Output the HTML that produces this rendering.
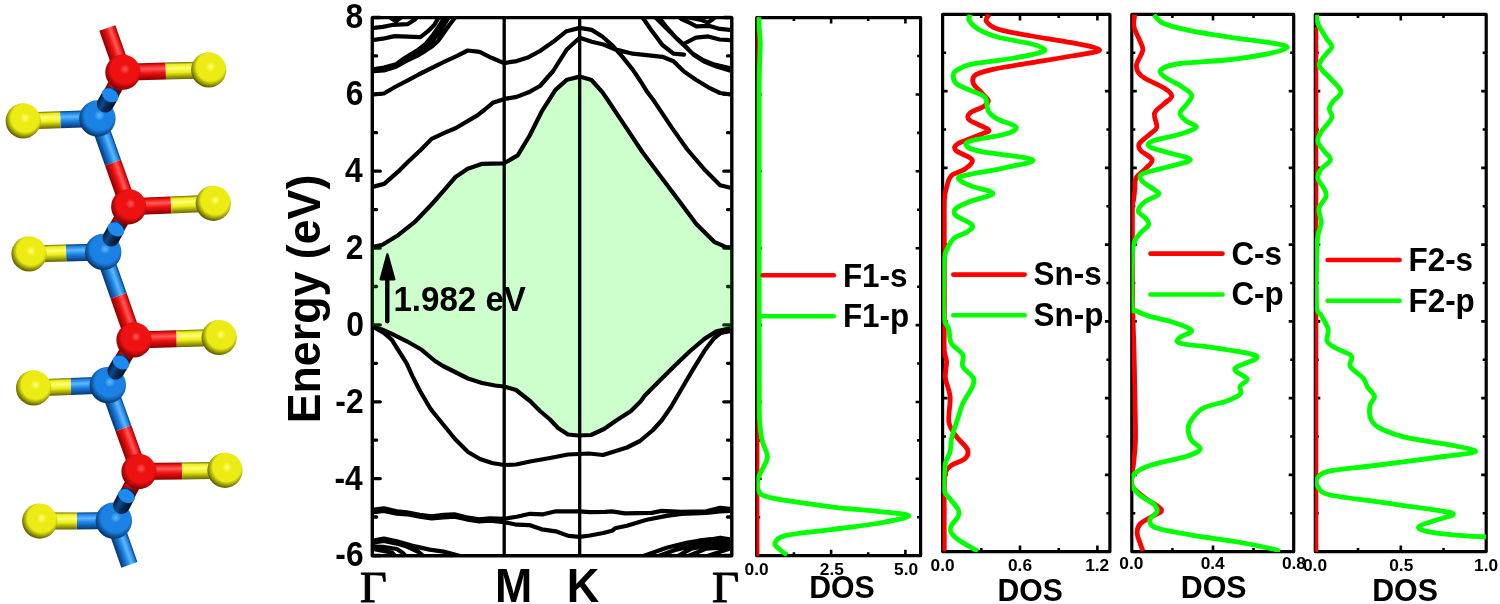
<!DOCTYPE html>
<html><head><meta charset="utf-8"><title>Band structure and DOS</title>
<style>
html,body{margin:0;padding:0;background:#fff;width:1500px;height:604px;overflow:hidden}
svg{display:block}
.s{font-family:"Liberation Sans",Arial,sans-serif}
.r{font-family:"Liberation Serif","Times New Roman",serif}
</style></head><body>
<svg width="1500" height="604" viewBox="0 0 1500 604"><defs><linearGradient id="g1" gradientUnits="userSpaceOnUse" x1="123.1" y1="47.3" x2="107.1" y2="53"><stop offset="0" stop-color="#8a0000"/><stop offset="0.12" stop-color="#ee1111"/><stop offset="0.35" stop-color="#ff5a5a"/><stop offset="0.6" stop-color="#ee1111"/><stop offset="1" stop-color="#8a0000"/></linearGradient><linearGradient id="g2" gradientUnits="userSpaceOnUse" x1="129.6" y1="539.8" x2="113.6" y2="545.5"><stop offset="0" stop-color="#08366e"/><stop offset="0.12" stop-color="#1a82e4"/><stop offset="0.35" stop-color="#60b8ff"/><stop offset="0.6" stop-color="#1a82e4"/><stop offset="1" stop-color="#08366e"/></linearGradient><linearGradient id="g3" gradientUnits="userSpaceOnUse" x1="144.1" y1="63.1" x2="144.6" y2="80.1"><stop offset="0" stop-color="#8a0000"/><stop offset="0.12" stop-color="#ee1111"/><stop offset="0.35" stop-color="#ff5a5a"/><stop offset="0.6" stop-color="#ee1111"/><stop offset="1" stop-color="#8a0000"/></linearGradient><linearGradient id="g4" gradientUnits="userSpaceOnUse" x1="187" y1="62" x2="187.5" y2="79"><stop offset="0" stop-color="#666600"/><stop offset="0.12" stop-color="#ecec14"/><stop offset="0.35" stop-color="#ffff78"/><stop offset="0.6" stop-color="#ecec14"/><stop offset="1" stop-color="#666600"/></linearGradient><linearGradient id="g5" gradientUnits="userSpaceOnUse" x1="78.6" y1="110.6" x2="79.1" y2="127.6"><stop offset="0" stop-color="#08366e"/><stop offset="0.12" stop-color="#1a82e4"/><stop offset="0.35" stop-color="#60b8ff"/><stop offset="0.6" stop-color="#1a82e4"/><stop offset="1" stop-color="#08366e"/></linearGradient><linearGradient id="g6" gradientUnits="userSpaceOnUse" x1="41.5" y1="111.8" x2="42" y2="128.8"><stop offset="0" stop-color="#666600"/><stop offset="0.12" stop-color="#ecec14"/><stop offset="0.35" stop-color="#ffff78"/><stop offset="0.6" stop-color="#ecec14"/><stop offset="1" stop-color="#666600"/></linearGradient><linearGradient id="g7" gradientUnits="userSpaceOnUse" x1="113.2" y1="137.7" x2="97.2" y2="143.4"><stop offset="0" stop-color="#08366e"/><stop offset="0.12" stop-color="#1a82e4"/><stop offset="0.35" stop-color="#60b8ff"/><stop offset="0.6" stop-color="#1a82e4"/><stop offset="1" stop-color="#08366e"/></linearGradient><linearGradient id="g8" gradientUnits="userSpaceOnUse" x1="128.9" y1="181.9" x2="112.9" y2="187.6"><stop offset="0" stop-color="#8a0000"/><stop offset="0.12" stop-color="#ee1111"/><stop offset="0.35" stop-color="#ff5a5a"/><stop offset="0.6" stop-color="#ee1111"/><stop offset="1" stop-color="#8a0000"/></linearGradient><linearGradient id="g9" gradientUnits="userSpaceOnUse" x1="149.5" y1="197.4" x2="150.2" y2="214.4"><stop offset="0" stop-color="#8a0000"/><stop offset="0.12" stop-color="#ee1111"/><stop offset="0.35" stop-color="#ff5a5a"/><stop offset="0.6" stop-color="#ee1111"/><stop offset="1" stop-color="#8a0000"/></linearGradient><linearGradient id="g10" gradientUnits="userSpaceOnUse" x1="191.8" y1="195.7" x2="192.5" y2="212.7"><stop offset="0" stop-color="#666600"/><stop offset="0.12" stop-color="#ecec14"/><stop offset="0.35" stop-color="#ffff78"/><stop offset="0.6" stop-color="#ecec14"/><stop offset="1" stop-color="#666600"/></linearGradient><linearGradient id="g11" gradientUnits="userSpaceOnUse" x1="84.4" y1="244" x2="84.9" y2="261"><stop offset="0" stop-color="#08366e"/><stop offset="0.12" stop-color="#1a82e4"/><stop offset="0.35" stop-color="#60b8ff"/><stop offset="0.6" stop-color="#1a82e4"/><stop offset="1" stop-color="#08366e"/></linearGradient><linearGradient id="g12" gradientUnits="userSpaceOnUse" x1="47.3" y1="244.9" x2="47.8" y2="261.9"><stop offset="0" stop-color="#666600"/><stop offset="0.12" stop-color="#ecec14"/><stop offset="0.35" stop-color="#ffff78"/><stop offset="0.6" stop-color="#ecec14"/><stop offset="1" stop-color="#666600"/></linearGradient><linearGradient id="g13" gradientUnits="userSpaceOnUse" x1="118.9" y1="271.2" x2="102.9" y2="276.8"><stop offset="0" stop-color="#08366e"/><stop offset="0.12" stop-color="#1a82e4"/><stop offset="0.35" stop-color="#60b8ff"/><stop offset="0.6" stop-color="#1a82e4"/><stop offset="1" stop-color="#08366e"/></linearGradient><linearGradient id="g14" gradientUnits="userSpaceOnUse" x1="134.3" y1="315.1" x2="118.3" y2="320.7"><stop offset="0" stop-color="#8a0000"/><stop offset="0.12" stop-color="#ee1111"/><stop offset="0.35" stop-color="#ff5a5a"/><stop offset="0.6" stop-color="#ee1111"/><stop offset="1" stop-color="#8a0000"/></linearGradient><linearGradient id="g15" gradientUnits="userSpaceOnUse" x1="155" y1="330.8" x2="155.5" y2="347.8"><stop offset="0" stop-color="#8a0000"/><stop offset="0.12" stop-color="#ee1111"/><stop offset="0.35" stop-color="#ff5a5a"/><stop offset="0.6" stop-color="#ee1111"/><stop offset="1" stop-color="#8a0000"/></linearGradient><linearGradient id="g16" gradientUnits="userSpaceOnUse" x1="197.6" y1="329.6" x2="198.1" y2="346.6"><stop offset="0" stop-color="#666600"/><stop offset="0.12" stop-color="#ecec14"/><stop offset="0.35" stop-color="#ffff78"/><stop offset="0.6" stop-color="#ecec14"/><stop offset="1" stop-color="#666600"/></linearGradient><linearGradient id="g17" gradientUnits="userSpaceOnUse" x1="88.9" y1="377.3" x2="89.6" y2="394.3"><stop offset="0" stop-color="#08366e"/><stop offset="0.12" stop-color="#1a82e4"/><stop offset="0.35" stop-color="#60b8ff"/><stop offset="0.6" stop-color="#1a82e4"/><stop offset="1" stop-color="#08366e"/></linearGradient><linearGradient id="g18" gradientUnits="userSpaceOnUse" x1="51.8" y1="378.7" x2="52.5" y2="395.7"><stop offset="0" stop-color="#666600"/><stop offset="0.12" stop-color="#ecec14"/><stop offset="0.35" stop-color="#ffff78"/><stop offset="0.6" stop-color="#ecec14"/><stop offset="1" stop-color="#666600"/></linearGradient><linearGradient id="g19" gradientUnits="userSpaceOnUse" x1="123.6" y1="403.8" x2="107.6" y2="409.6"><stop offset="0" stop-color="#08366e"/><stop offset="0.12" stop-color="#1a82e4"/><stop offset="0.35" stop-color="#60b8ff"/><stop offset="0.6" stop-color="#1a82e4"/><stop offset="1" stop-color="#08366e"/></linearGradient><linearGradient id="g20" gradientUnits="userSpaceOnUse" x1="139.2" y1="447.1" x2="123.2" y2="452.9"><stop offset="0" stop-color="#8a0000"/><stop offset="0.12" stop-color="#ee1111"/><stop offset="0.35" stop-color="#ff5a5a"/><stop offset="0.6" stop-color="#ee1111"/><stop offset="1" stop-color="#8a0000"/></linearGradient><linearGradient id="g21" gradientUnits="userSpaceOnUse" x1="160.4" y1="462.8" x2="160.6" y2="479.8"><stop offset="0" stop-color="#8a0000"/><stop offset="0.12" stop-color="#ee1111"/><stop offset="0.35" stop-color="#ff5a5a"/><stop offset="0.6" stop-color="#ee1111"/><stop offset="1" stop-color="#8a0000"/></linearGradient><linearGradient id="g22" gradientUnits="userSpaceOnUse" x1="203.4" y1="462.1" x2="203.6" y2="479.1"><stop offset="0" stop-color="#666600"/><stop offset="0.12" stop-color="#ecec14"/><stop offset="0.35" stop-color="#ffff78"/><stop offset="0.6" stop-color="#ecec14"/><stop offset="1" stop-color="#666600"/></linearGradient><linearGradient id="g23" gradientUnits="userSpaceOnUse" x1="95.2" y1="512.2" x2="95.3" y2="529.2"><stop offset="0" stop-color="#08366e"/><stop offset="0.12" stop-color="#1a82e4"/><stop offset="0.35" stop-color="#60b8ff"/><stop offset="0.6" stop-color="#1a82e4"/><stop offset="1" stop-color="#08366e"/></linearGradient><linearGradient id="g24" gradientUnits="userSpaceOnUse" x1="58.2" y1="512.5" x2="58.3" y2="529.5"><stop offset="0" stop-color="#666600"/><stop offset="0.12" stop-color="#ecec14"/><stop offset="0.35" stop-color="#ffff78"/><stop offset="0.6" stop-color="#ecec14"/><stop offset="1" stop-color="#666600"/></linearGradient><radialGradient id="a25" cx="210.7" cy="66.9" r="20.2" fx="210.7" fy="66.9" gradientUnits="userSpaceOnUse"><stop offset="0" stop-color="#ffff78"/><stop offset="0.25" stop-color="#ecec14"/><stop offset="0.7" stop-color="#ecec14"/><stop offset="1" stop-color="#666600"/></radialGradient><radialGradient id="a26" cx="25.2" cy="117.9" r="20.2" fx="25.2" fy="117.9" gradientUnits="userSpaceOnUse"><stop offset="0" stop-color="#ffff78"/><stop offset="0.25" stop-color="#ecec14"/><stop offset="0.7" stop-color="#ecec14"/><stop offset="1" stop-color="#666600"/></radialGradient><radialGradient id="a27" cx="215.3" cy="200.3" r="20.2" fx="215.3" fy="200.3" gradientUnits="userSpaceOnUse"><stop offset="0" stop-color="#ffff78"/><stop offset="0.25" stop-color="#ecec14"/><stop offset="0.7" stop-color="#ecec14"/><stop offset="1" stop-color="#666600"/></radialGradient><radialGradient id="a28" cx="31" cy="250.9" r="20.2" fx="31" fy="250.9" gradientUnits="userSpaceOnUse"><stop offset="0" stop-color="#ffff78"/><stop offset="0.25" stop-color="#ecec14"/><stop offset="0.7" stop-color="#ecec14"/><stop offset="1" stop-color="#666600"/></radialGradient><radialGradient id="a29" cx="221.1" cy="334.5" r="20.2" fx="221.1" fy="334.5" gradientUnits="userSpaceOnUse"><stop offset="0" stop-color="#ffff78"/><stop offset="0.25" stop-color="#ecec14"/><stop offset="0.7" stop-color="#ecec14"/><stop offset="1" stop-color="#666600"/></radialGradient><radialGradient id="a30" cx="35.6" cy="384.9" r="20.2" fx="35.6" fy="384.9" gradientUnits="userSpaceOnUse"><stop offset="0" stop-color="#ffff78"/><stop offset="0.25" stop-color="#ecec14"/><stop offset="0.7" stop-color="#ecec14"/><stop offset="1" stop-color="#666600"/></radialGradient><radialGradient id="a31" cx="227" cy="467.3" r="20.2" fx="227" fy="467.3" gradientUnits="userSpaceOnUse"><stop offset="0" stop-color="#ffff78"/><stop offset="0.25" stop-color="#ecec14"/><stop offset="0.7" stop-color="#ecec14"/><stop offset="1" stop-color="#666600"/></radialGradient><radialGradient id="a32" cx="41.7" cy="518.1" r="20.2" fx="41.7" fy="518.1" gradientUnits="userSpaceOnUse"><stop offset="0" stop-color="#ffff78"/><stop offset="0.25" stop-color="#ecec14"/><stop offset="0.7" stop-color="#ecec14"/><stop offset="1" stop-color="#666600"/></radialGradient><linearGradient id="g33" gradientUnits="userSpaceOnUse" x1="109.5" y1="79.9" x2="123.5" y2="87.6"><stop offset="0" stop-color="#600"/><stop offset="0.12" stop-color="#b00"/><stop offset="0.35" stop-color="#d00"/><stop offset="0.6" stop-color="#b00"/><stop offset="1" stop-color="#600"/></linearGradient><radialGradient id="a34" cx="99.4" cy="115.5" r="20.9" fx="99.4" fy="115.5" gradientUnits="userSpaceOnUse"><stop offset="0" stop-color="#60b8ff"/><stop offset="0.25" stop-color="#1a82e4"/><stop offset="0.7" stop-color="#1a82e4"/><stop offset="1" stop-color="#08366e"/></radialGradient><linearGradient id="g35" gradientUnits="userSpaceOnUse" x1="100.3" y1="95.6" x2="115.2" y2="103.8"><stop offset="0" stop-color="#011428"/><stop offset="0.12" stop-color="#062c58"/><stop offset="0.35" stop-color="#0e4a88"/><stop offset="0.6" stop-color="#062c58"/><stop offset="1" stop-color="#011428"/></linearGradient><radialGradient id="a36" cx="124.9" cy="69.2" r="20.2" fx="124.9" fy="69.2" gradientUnits="userSpaceOnUse"><stop offset="0" stop-color="#ff5a5a"/><stop offset="0.25" stop-color="#ee1111"/><stop offset="0.7" stop-color="#ee1111"/><stop offset="1" stop-color="#8a0000"/></radialGradient><linearGradient id="g37" gradientUnits="userSpaceOnUse" x1="115.4" y1="214.2" x2="129.3" y2="222"><stop offset="0" stop-color="#600"/><stop offset="0.12" stop-color="#b00"/><stop offset="0.35" stop-color="#d00"/><stop offset="0.6" stop-color="#b00"/><stop offset="1" stop-color="#600"/></linearGradient><radialGradient id="a38" cx="105.2" cy="249" r="20.9" fx="105.2" fy="249" gradientUnits="userSpaceOnUse"><stop offset="0" stop-color="#60b8ff"/><stop offset="0.25" stop-color="#1a82e4"/><stop offset="0.7" stop-color="#1a82e4"/><stop offset="1" stop-color="#08366e"/></radialGradient><linearGradient id="g39" gradientUnits="userSpaceOnUse" x1="106.1" y1="229.5" x2="120.9" y2="237.9"><stop offset="0" stop-color="#011428"/><stop offset="0.12" stop-color="#062c58"/><stop offset="0.35" stop-color="#0e4a88"/><stop offset="0.6" stop-color="#062c58"/><stop offset="1" stop-color="#011428"/></linearGradient><radialGradient id="a40" cx="130.7" cy="203.8" r="20.2" fx="130.7" fy="203.8" gradientUnits="userSpaceOnUse"><stop offset="0" stop-color="#ff5a5a"/><stop offset="0.25" stop-color="#ee1111"/><stop offset="0.7" stop-color="#ee1111"/><stop offset="1" stop-color="#8a0000"/></radialGradient><linearGradient id="g41" gradientUnits="userSpaceOnUse" x1="120.5" y1="347.2" x2="134.4" y2="355.2"><stop offset="0" stop-color="#600"/><stop offset="0.12" stop-color="#b00"/><stop offset="0.35" stop-color="#d00"/><stop offset="0.6" stop-color="#b00"/><stop offset="1" stop-color="#600"/></linearGradient><radialGradient id="a42" cx="109.8" cy="382.1" r="20.9" fx="109.8" fy="382.1" gradientUnits="userSpaceOnUse"><stop offset="0" stop-color="#60b8ff"/><stop offset="0.25" stop-color="#1a82e4"/><stop offset="0.7" stop-color="#1a82e4"/><stop offset="1" stop-color="#08366e"/></radialGradient><linearGradient id="g43" gradientUnits="userSpaceOnUse" x1="111.1" y1="362.5" x2="125.8" y2="371.1"><stop offset="0" stop-color="#011428"/><stop offset="0.12" stop-color="#062c58"/><stop offset="0.35" stop-color="#0e4a88"/><stop offset="0.6" stop-color="#062c58"/><stop offset="1" stop-color="#011428"/></linearGradient><radialGradient id="a44" cx="136" cy="336.9" r="20.2" fx="136" fy="336.9" gradientUnits="userSpaceOnUse"><stop offset="0" stop-color="#ff5a5a"/><stop offset="0.25" stop-color="#ee1111"/><stop offset="0.7" stop-color="#ee1111"/><stop offset="1" stop-color="#8a0000"/></radialGradient><linearGradient id="g45" gradientUnits="userSpaceOnUse" x1="125.6" y1="480.2" x2="139.8" y2="487.5"><stop offset="0" stop-color="#600"/><stop offset="0.12" stop-color="#b00"/><stop offset="0.35" stop-color="#d00"/><stop offset="0.6" stop-color="#b00"/><stop offset="1" stop-color="#600"/></linearGradient><radialGradient id="a46" cx="115.8" cy="517.6" r="20.9" fx="115.8" fy="517.6" gradientUnits="userSpaceOnUse"><stop offset="0" stop-color="#60b8ff"/><stop offset="0.25" stop-color="#1a82e4"/><stop offset="0.7" stop-color="#1a82e4"/><stop offset="1" stop-color="#08366e"/></radialGradient><linearGradient id="g47" gradientUnits="userSpaceOnUse" x1="116.4" y1="496.9" x2="131.6" y2="504.6"><stop offset="0" stop-color="#011428"/><stop offset="0.12" stop-color="#062c58"/><stop offset="0.35" stop-color="#0e4a88"/><stop offset="0.6" stop-color="#062c58"/><stop offset="1" stop-color="#011428"/></linearGradient><radialGradient id="a48" cx="141" cy="468.6" r="20.2" fx="141" fy="468.6" gradientUnits="userSpaceOnUse"><stop offset="0" stop-color="#ff5a5a"/><stop offset="0.25" stop-color="#ee1111"/><stop offset="0.7" stop-color="#ee1111"/><stop offset="1" stop-color="#8a0000"/></radialGradient></defs><g id="mol">
<line x1="107.3" y1="28" x2="122.9" y2="72.2" stroke="url(#g1)" stroke-width="17.0" stroke-linecap="butt"/>
<line x1="113.8" y1="520.6" x2="129.4" y2="564.8" stroke="url(#g2)" stroke-width="17.0" stroke-linecap="butt"/>
<line x1="122.9" y1="72.2" x2="165.8" y2="71.1" stroke="url(#g3)" stroke-width="17.0" stroke-linecap="butt"/>
<line x1="165.8" y1="71.1" x2="208.7" y2="69.9" stroke="url(#g4)" stroke-width="17.0" stroke-linecap="butt"/>
<line x1="97.4" y1="118.5" x2="60.3" y2="119.7" stroke="url(#g5)" stroke-width="17.0" stroke-linecap="butt"/>
<line x1="60.3" y1="119.7" x2="23.2" y2="120.9" stroke="url(#g6)" stroke-width="17.0" stroke-linecap="butt"/>
<line x1="97.4" y1="118.5" x2="113" y2="162.7" stroke="url(#g7)" stroke-width="17.0" stroke-linecap="butt"/>
<line x1="113" y1="162.7" x2="128.7" y2="206.8" stroke="url(#g8)" stroke-width="17.0" stroke-linecap="butt"/>
<line x1="128.7" y1="206.8" x2="171" y2="205.1" stroke="url(#g9)" stroke-width="17.0" stroke-linecap="butt"/>
<line x1="171" y1="205.1" x2="213.3" y2="203.3" stroke="url(#g10)" stroke-width="17.0" stroke-linecap="butt"/>
<line x1="103.2" y1="252" x2="66.1" y2="252.9" stroke="url(#g11)" stroke-width="17.0" stroke-linecap="butt"/>
<line x1="66.1" y1="252.9" x2="29" y2="253.9" stroke="url(#g12)" stroke-width="17.0" stroke-linecap="butt"/>
<line x1="103.2" y1="252" x2="118.6" y2="295.9" stroke="url(#g13)" stroke-width="17.0" stroke-linecap="butt"/>
<line x1="118.6" y1="295.9" x2="134" y2="339.9" stroke="url(#g14)" stroke-width="17.0" stroke-linecap="butt"/>
<line x1="134" y1="339.9" x2="176.6" y2="338.7" stroke="url(#g15)" stroke-width="17.0" stroke-linecap="butt"/>
<line x1="176.6" y1="338.7" x2="219.1" y2="337.5" stroke="url(#g16)" stroke-width="17.0" stroke-linecap="butt"/>
<line x1="107.8" y1="385.1" x2="70.7" y2="386.5" stroke="url(#g17)" stroke-width="17.0" stroke-linecap="butt"/>
<line x1="70.7" y1="386.5" x2="33.6" y2="387.9" stroke="url(#g18)" stroke-width="17.0" stroke-linecap="butt"/>
<line x1="107.8" y1="385.1" x2="123.4" y2="428.4" stroke="url(#g19)" stroke-width="17.0" stroke-linecap="butt"/>
<line x1="123.4" y1="428.4" x2="139" y2="471.6" stroke="url(#g20)" stroke-width="17.0" stroke-linecap="butt"/>
<line x1="139" y1="471.6" x2="182" y2="471" stroke="url(#g21)" stroke-width="17.0" stroke-linecap="butt"/>
<line x1="182" y1="471" x2="225" y2="470.3" stroke="url(#g22)" stroke-width="17.0" stroke-linecap="butt"/>
<line x1="113.8" y1="520.6" x2="76.8" y2="520.9" stroke="url(#g23)" stroke-width="17.0" stroke-linecap="butt"/>
<line x1="76.8" y1="520.9" x2="39.7" y2="521.1" stroke="url(#g24)" stroke-width="17.0" stroke-linecap="butt"/>
<circle cx="208.7" cy="69.9" r="17.6" fill="url(#a25)"/>
<circle cx="23.2" cy="120.9" r="17.6" fill="url(#a26)"/>
<circle cx="213.3" cy="203.3" r="17.6" fill="url(#a27)"/>
<circle cx="29" cy="253.9" r="17.6" fill="url(#a28)"/>
<circle cx="219.1" cy="337.5" r="17.6" fill="url(#a29)"/>
<circle cx="33.6" cy="387.9" r="17.6" fill="url(#a30)"/>
<circle cx="225" cy="470.3" r="17.6" fill="url(#a31)"/>
<circle cx="39.7" cy="521.1" r="17.6" fill="url(#a32)"/>
<line x1="122.9" y1="72.2" x2="110.2" y2="95.3" stroke="url(#g33)" stroke-width="16" stroke-linecap="butt"/>
<circle cx="97.4" cy="118.5" r="18.2" fill="url(#a34)"/>
<line x1="110.2" y1="95.3" x2="105.3" y2="104.1" stroke="url(#g35)" stroke-width="17" stroke-linecap="round"/>
<ellipse cx="110.2" cy="95.3" rx="6.4" ry="8.8" transform="rotate(118.8 110.2 95.3)" fill="#1e8af0"/>
<circle cx="122.9" cy="72.2" r="17.6" fill="url(#a36)"/>
<line x1="128.7" y1="206.8" x2="115.9" y2="229.4" stroke="url(#g37)" stroke-width="16" stroke-linecap="butt"/>
<circle cx="103.2" cy="252" r="18.2" fill="url(#a38)"/>
<line x1="115.9" y1="229.4" x2="111.1" y2="238" stroke="url(#g39)" stroke-width="17" stroke-linecap="round"/>
<ellipse cx="115.9" cy="229.4" rx="6.4" ry="8.8" transform="rotate(119.4 115.9 229.4)" fill="#1e8af0"/>
<circle cx="128.7" cy="206.8" r="17.6" fill="url(#a40)"/>
<line x1="134" y1="339.9" x2="120.9" y2="362.5" stroke="url(#g41)" stroke-width="16" stroke-linecap="butt"/>
<circle cx="107.8" cy="385.1" r="18.2" fill="url(#a42)"/>
<line x1="120.9" y1="362.5" x2="115.9" y2="371.1" stroke="url(#g43)" stroke-width="17" stroke-linecap="round"/>
<ellipse cx="120.9" cy="362.5" rx="6.4" ry="8.8" transform="rotate(120.1 120.9 362.5)" fill="#1e8af0"/>
<circle cx="134" cy="339.9" r="17.6" fill="url(#a44)"/>
<line x1="139" y1="471.6" x2="126.4" y2="496.1" stroke="url(#g45)" stroke-width="16" stroke-linecap="butt"/>
<circle cx="113.8" cy="520.6" r="18.2" fill="url(#a46)"/>
<line x1="126.4" y1="496.1" x2="121.6" y2="505.4" stroke="url(#g47)" stroke-width="17" stroke-linecap="round"/>
<ellipse cx="126.4" cy="496.1" rx="6.4" ry="8.8" transform="rotate(117.2 126.4 496.1)" fill="#1e8af0"/>
<circle cx="139" cy="471.6" r="17.6" fill="url(#a48)"/>
</g>
<rect x="372.3" y="17.6" width="359.5" height="538.2" fill="none" stroke="#000" stroke-width="3.4" stroke-linejoin="round"/>
<path d="M373,555.5H380.3M731,555.5H723.8M373,517H376.6M731,517H727.5M373,478.6H380.3M731,478.6H723.8M373,440.2H376.6M731,440.2H727.5M373,401.8H380.3M731,401.8H723.8M373,363.3H376.6M731,363.3H727.5M373,324.9H380.3M731,324.9H723.8M373,286.5H376.6M731,286.5H727.5M373,248H380.3M731,248H723.8M373,209.6H376.6M731,209.6H727.5M373,171.2H380.3M731,171.2H723.8M373,132.7H376.6M731,132.7H727.5M373,94.3H380.3M731,94.3H723.8M373,55.9H376.6M731,55.9H727.5M373,17.5H380.3M731,17.5H723.8" stroke="#000" stroke-width="3.3" stroke-linecap="round"/>
<defs><clipPath id="fclip"><rect x="372.4" y="19" width="359.3" height="535"/></clipPath><clipPath id="bclip"><rect x="374" y="19" width="356.1" height="535"/></clipPath></defs>
<path clip-path="url(#fclip)" d="M360,247 L373,247 L382.4,244.8 L398.1,235.2 L415.5,221.3 L432.9,203 L445,189.1 L455.5,177 L467.7,168.8 L481.6,163.9 L492,163.6 L504,163.3 L517.7,155.4 L529.7,135.5 L541.6,111.7 L555.5,89.8 L567,79.7 L579.7,76.6 L591.5,80 L602.3,92.1 L606.9,98.8 L624.8,125.6 L642.7,152.5 L660.5,176.3 L678.4,200.1 L696.3,223.9 L714.2,241.8 L726.1,247.2 L731,247.5 L745,247.5 L745,328.2 L731,328.2 L716.4,331.4 L704.5,338.9 L689.6,351.5 L674.7,365.7 L659.8,380.6 L644.9,395.4 L641,401 L631,411 L617,420 L604,429 L591,435 L578,435.5 L568,434.5 L558,428 L550,419.5 L540,411 L530,401 L516,390 L504,386.5 L495,385.5 L482,383 L468,378.5 L455,372 L443,366 L435,361 L421.7,349.8 L406.8,341.3 L391.9,333.9 L381.9,329.4 L373,326.8 L360,326.8Z" fill="#00ff00" fill-opacity="0.2"/>
<g clip-path="url(#bclip)">
<path d="M504.2,19V554M579.7,19V554" stroke="#000" stroke-width="3.3"/>
<path d="M387.3,321.2V275" stroke="#000" stroke-width="4.4" stroke-linecap="round"/>
<path d="M387.4,254.2L394.4,279.3L380.6,279.3Z" fill="#000" stroke="#000" stroke-width="2.2" stroke-linejoin="round"/>
<path d="M373,247 L382.4,244.8 L398.1,235.2 L415.5,221.3 L432.9,203 L445,189.1 L455.5,177 L467.7,168.8 L481.6,163.9 L492,163.6 L504,163.3 L517.7,155.4 L529.7,135.5 L541.6,111.7 L555.5,89.8 L567,79.7 L579.7,76.6 L591.5,80 L602.3,92.1 L606.9,98.8 L624.8,125.6 L642.7,152.5 L660.5,176.3 L678.4,200.1 L696.3,223.9 L714.2,241.8 L726.1,247.2 L731,247.5M373,326.8 L381.9,329.4 L391.9,333.9 L406.8,341.3 L421.7,349.8 L435,361 L443,366 L455,372 L468,378.5 L482,383 L495,385.5 L504,386.5 L516,390 L530,401 L540,411 L550,419.5 L558,428 L568,434.5 L578,435.5 L591,435 L604,429 L617,420 L631,411 L641,401 L644.9,395.4 L659.8,380.6 L674.7,365.7 L689.6,351.5 L704.5,338.9 L716.4,331.4 L731,328.2M373,326.8 L383.9,332.9 L391.9,339.8 L396.8,347.8 L401.8,355.7 L406.8,363.7 L412.7,376.6 L420,391 L430,408 L433,412 L442,423 L455,439 L468,452 L480,459 L492,463 L504,465 L516,464.5 L530,461.5 L550,458 L568,454.5 L579,454 L589,453.5 L603,455 L627,447.5 L640,441 L653,430 L662,420 L671,407 L682.1,388 L692.6,370.1 L704.5,350.8 L713.4,338.9 L720.9,332.9 L731,331M373,94.5 L383.9,93.5 L395,87 L409.7,79.3 L418.7,74.5 L443,62.3 L457.1,55.8 L467.7,50.5 L479.6,51.9 L491.5,57.8 L504,63.1 L516.7,61.1 L528.6,57.2 L540,51 L553.2,41.8 L566.5,31.2 L579.7,27.9 L591.7,29.9 L602.3,36.5 L612.8,45.8 L622.1,56.4 L632.7,69.6 L640.7,81.5 L647.3,92.1 L654.6,101.8 L672.5,128.6 L687.3,149.5 L705.2,170.3 L720.1,185.2 L731,187.8M373,186.8 L384.2,183.9 L398.1,171.7 L406.8,163 L420.7,150 L431.6,138.9 L445.5,132.4 L455.5,128.3 L477.4,115.4 L484.9,109.5 L492.8,102.8 L504.5,98.9 L516.7,96.9 L528.6,92.3 L540,86 L553.2,71 L566.5,49.8 L579.7,37.8 L591.7,41.8 L603.6,44.5 L614.2,49.1 L632.7,53.7 L651.2,55.6 L662.4,56.8 L673.5,61.2 L683.5,71.1 L695.9,79.8 L708.3,87.3 L720,93 L731,94.6M373,28.1 L382.8,26.9 L393.5,24.8 L407.5,24.2 L415,19.4 L418,16M679,17 L681.5,19 L689.9,22.9 L696.4,26.4 L709.8,25.9 L719.7,28.9 L731,30M373,39.9 L382.8,38.7 L394.6,36.1 L407.5,36.6 L420.4,37.1 L428,31.2 L434.4,24.8 L439.5,16M683.5,44 L695.9,37.6 L708.3,36.4 L719.5,39.5 L731,40.1M388,16 L395.7,21.3 L403,16M684,16.5 L700,19.6 L708,22.6 L713,19 L716,16.5M373,69.2 L384,67.6 L396,64.2 L405,57.8 L417.4,50.3 L425.7,43.8 L432.3,35.9 L438,27.7 L441.4,22.5 L444.5,16M373,70.2 L384,69 L396,65.5 L405,59.6 L417.4,52.9 L425.7,46.8 L432.3,40.8 L438,33.8 L444,25 L449.5,16M373,71.2 L384,70.5 L396,66.7 L405,61.6 L417.4,55.6 L425.7,50.6 L432.3,46.3 L438,41 L442.3,35 L449.7,24.5 L456.3,16M654,16 L664.8,26.7 L674.8,36.6 L683.5,44.3 L692.2,53.2 L702.1,59.6 L714.5,64.6 L731,68.4M658,16 L666.8,27.5 L676.8,38.6 L685.5,46.8 L694.2,55.2 L704.1,61.6 L716.5,66.6 L731,70.9M641,16 L643.7,19 L651.2,30.1 L662.4,45 L673.5,53.7 L684,54.6M373,509.8 L383.9,508.3 L396.8,511.3 L406.8,512.3 L419.7,514.8 L431.6,516.3 L443.5,514.8 L454.4,514.3 L466.3,517.3 L479.2,519.3 L490,518.3 L504.2,518.8 L516.7,516.8 L530,513.8 L543.3,514.3 L555.8,511.3 L579.6,511.3 L590,512.2 L605,511.8 L612,511.4 L624.9,513.4 L651.7,512.9 L661.7,510.9 L681.5,511.9 L706.3,511.4 L720.2,507.9 L731,508.9M373,512.3 L383.9,511 L396.8,513.6 L406.8,514.3 L419.7,516.6 L431.6,518.3 L443.5,517.3 L454.4,516.6 L466.3,519.3 L479.2,521.3 L490,520.7 L504.2,522.2 L516.7,524.7 L529.2,525.1 L541.7,529.3 L555.8,531.3 L568.3,535.9 L579.6,536.8 L590,535.5 L603.3,533 L612,530.8 L615,528.3 L626.9,525.8 L646.8,519.8 L666.6,515.9 L681.5,513.9 L706.3,512.9 L720,511.5 L731,510.9M373,540.5 L383.9,538.6 L396.8,541.2 L411.7,545.6 L429.6,549.6 L443.5,551.6 L462,556.5M373,542.6 L383.9,541 L396.8,543.6 L406.8,546.6 L418.7,552 L424,556.5M373,546.5 L383,546.8 L396.8,549 L403,553 L406,556.5M373,549 L391.9,552.6 L396,556.5M642,556.5 L666.6,547.7 L686.5,542.7 L698.4,540.7 L711.3,539.2 L720.2,537.7 L731,539.5M657,556.5 L676.5,549.6 L698.4,544.2 L711.3,541.7 L731,540.8M677,556.5 L691.4,548.6 L706.3,545.7 L721.2,544.7 L731,545.2M687,556.5 L706.3,548.6 L731,546.7M706,556.5 L731,548.1" fill="none" stroke="#000" stroke-width="4.2" stroke-linejoin="round" stroke-linecap="round"/>
</g>
<text transform="translate(393.41,311.00) scale(0.3310,0.3500)" font-size="100" font-weight="bold" class="s">1.982 eV</text>
<text transform="translate(335.37,566.48) scale(0.3180,0.3440)" font-size="100" font-weight="bold" class="s">-6</text>
<text transform="translate(334.42,489.62) scale(0.3180,0.3440)" font-size="100" font-weight="bold" class="s">-4</text>
<text transform="translate(335.37,412.76) scale(0.3180,0.3440)" font-size="100" font-weight="bold" class="s">-2</text>
<text transform="translate(346.18,335.90) scale(0.3180,0.3440)" font-size="100" font-weight="bold" class="s">0</text>
<text transform="translate(345.86,259.04) scale(0.3180,0.3440)" font-size="100" font-weight="bold" class="s">2</text>
<text transform="translate(344.91,182.18) scale(0.3180,0.3440)" font-size="100" font-weight="bold" class="s">4</text>
<text transform="translate(345.86,105.32) scale(0.3180,0.3440)" font-size="100" font-weight="bold" class="s">6</text>
<text transform="translate(345.55,28.46) scale(0.3180,0.3440)" font-size="100" font-weight="bold" class="s">8</text>
<text transform="translate(320.4,423.33) rotate(-90) scale(0.4476,0.4652)" font-size="100" font-weight="bold" class="s">Energy (eV)</text>
<text transform="translate(360.01,601.50) scale(0.4635,0.4446)" font-size="100" font-weight="normal" class="r" stroke="#000" stroke-width="2.2">Γ</text>
<text transform="translate(711.89,601.50) scale(0.4692,0.4446)" font-size="100" font-weight="normal" class="r" stroke="#000" stroke-width="2.2">Γ</text>
<text transform="translate(494.97,601.70) scale(0.4471,0.4739)" font-size="100" font-weight="bold" class="s">M</text>
<text transform="translate(566.74,601.70) scale(0.4516,0.4739)" font-size="100" font-weight="bold" class="s">K</text>
<defs><clipPath id="pc0"><rect x="756.5" y="17.3" width="164.3" height="538.7"/></clipPath></defs>
<path d="M756.7,555.7h5M920.6,555.7h-5M756.7,517.3h3.5M920.6,517.3h-3.5M756.7,478.8h5M920.6,478.8h-5M756.7,440.4h3.5M920.6,440.4h-3.5M756.7,402h5M920.6,402h-5M756.7,363.5h3.5M920.6,363.5h-3.5M756.7,325.1h5M920.6,325.1h-5M756.7,286.7h3.5M920.6,286.7h-3.5M756.7,248.2h5M920.6,248.2h-5M756.7,209.8h3.5M920.6,209.8h-3.5M756.7,171.3h5M920.6,171.3h-5M756.7,132.9h3.5M920.6,132.9h-3.5M756.7,94.5h5M920.6,94.5h-5M756.7,56h3.5M920.6,56h-3.5M756.7,17.6h5M920.6,17.6h-5M793.9,17.6v3.5M793.9,555.7v-3.5M831.1,17.6v6M831.1,555.7v-6M868.2,17.6v3.5M868.2,555.7v-3.5M905.4,17.6v6M905.4,555.7v-6" stroke="#000" stroke-width="2.6"/>
<rect x="756.7" y="17.6" width="163.9" height="538.1" fill="none" stroke="#000" stroke-width="3.2" stroke-linejoin="round"/>
<g clip-path="url(#pc0)">
<path d="M757,16 L757,557" fill="none" stroke="#ff0000" stroke-width="4.8" stroke-linejoin="round"/>
<path d="M758.8,16 C758.9,18 759,23.7 759.2,28 C759.5,32.3 760.2,37 760.3,42 C760.4,47 760,50 759.8,58 C759.6,66 759.3,66.3 759.2,90 C759.1,113.7 759.2,165 759.2,200 C759.2,235 759.2,270 759.2,300 C759.2,330 759.2,360 759.3,380 C759.4,400 759.1,410 759.6,420 C760.1,430 760.7,433.9 762,440 C763.3,446.1 767.2,451.8 767.4,456.5 C767.6,461.2 764.5,464.4 763,468 C761.5,471.6 759.1,474.3 758.3,478 C757.5,481.7 756.3,486.7 758.3,490 C760.3,493.3 758.2,494.8 770.4,497.6 C782.6,500.4 813.5,504.5 831.3,506.8 C849.1,509.1 864,509.8 877,511.3 C890,512.8 909,513.9 909,515.9 C909,517.9 890,521.2 877,523.5 C864,525.8 846.5,527.6 831.3,529.6 C816.1,531.6 795.1,533.4 785.7,535.7 C776.3,538 776,541 775,543.3 C774,545.6 777.6,547.4 779.6,549.4 C781.6,551.4 785.9,554.1 787.2,555" fill="none" stroke="#00ff00" stroke-width="4.8" stroke-linejoin="round"/>
</g>
<text transform="translate(744.58,574.80) scale(0.1730,0.1620)" font-size="100" font-weight="bold" class="s">0.0</text>
<text transform="translate(819.78,574.80) scale(0.1730,0.1620)" font-size="100" font-weight="bold" class="s">2.5</text>
<text transform="translate(894.11,574.80) scale(0.1730,0.1620)" font-size="100" font-weight="bold" class="s">5.0</text>
<text transform="translate(809.18,598.40) scale(0.3024,0.3157)" font-size="100" font-weight="bold" class="s">DOS</text>
<path d="M762.6,275.3H833.8" stroke="#ff0000" stroke-width="4.6" stroke-linecap="round"/>
<path d="M762.6,316.2H833.8" stroke="#00ff00" stroke-width="4.6" stroke-linecap="round"/>
<text transform="translate(842.90,286.50) scale(0.3140,0.3260)" font-size="100" font-weight="bold" class="s">F1-s</text>
<text transform="translate(842.90,327.00) scale(0.3140,0.3260)" font-size="100" font-weight="bold" class="s">F1-p</text>
<defs><clipPath id="pc1"><rect x="942.4" y="14.1" width="167.7" height="537.8"/></clipPath></defs>
<path d="M942.6,551.6h5M1109.9,551.6h-5M942.6,513.2h3.5M1109.9,513.2h-3.5M942.6,474.9h5M1109.9,474.9h-5M942.6,436.5h3.5M1109.9,436.5h-3.5M942.6,398.1h5M1109.9,398.1h-5M942.6,359.7h3.5M1109.9,359.7h-3.5M942.6,321.4h5M1109.9,321.4h-5M942.6,283h3.5M1109.9,283h-3.5M942.6,244.6h5M1109.9,244.6h-5M942.6,206.3h3.5M1109.9,206.3h-3.5M942.6,167.9h5M1109.9,167.9h-5M942.6,129.5h3.5M1109.9,129.5h-3.5M942.6,91.1h5M1109.9,91.1h-5M942.6,52.8h3.5M1109.9,52.8h-3.5M942.6,14.4h5M1109.9,14.4h-5M981.3,14.4v3.5M981.3,551.6v-3.5M1020,14.4v6M1020,551.6v-6M1058.7,14.4v3.5M1058.7,551.6v-3.5M1097.4,14.4v6M1097.4,551.6v-6" stroke="#000" stroke-width="2.6"/>
<rect x="942.6" y="14.4" width="167.3" height="537.2" fill="none" stroke="#000" stroke-width="3.2" stroke-linejoin="round"/>
<g clip-path="url(#pc1)">
<path d="M989,14.7 C988.5,15.8 984.8,18.9 986.3,21.3 C987.8,23.7 990.7,26.9 998.3,29.3 C1005.9,31.8 1019.5,33.8 1031.7,36 C1043.9,38.2 1060.4,40.4 1071.7,42.7 C1083,45 1099.7,47.8 1099.7,50 C1099.7,52.2 1083,53.9 1071.7,56 C1060.4,58.1 1044.8,60.5 1031.7,62.7 C1018.6,64.9 1002.3,67.3 993,69.3 C983.7,71.3 979,72.4 975.7,74.7 C972.4,77 972.3,80.2 973.3,83.2 C974.2,86.2 978.9,89.6 981.4,92.5 C983.9,95.4 987.9,98.3 988.3,100.6 C988.7,102.9 986.8,104.3 983.7,106.4 C980.6,108.5 972.1,111 969.8,113.3 C967.5,115.6 966.7,117.6 969.8,120.3 C972.9,123 986.4,127.3 988.3,129.6 C990.2,131.9 986.4,131.9 981.4,134.2 C976.4,136.5 962.5,140.8 958.2,143.5 C954,146.2 953.6,147.7 955.9,150.4 C958.2,153.1 970.6,156.6 972.1,159.7 C973.6,162.8 968.6,166.3 965.1,169 C961.6,171.7 954.3,172.8 951.2,175.9 C948.1,179 947.7,183.7 946.6,187.5 C945.5,191.3 944.9,191.9 944.5,199 C944.1,206.1 944.3,209.8 944.3,230 C944.3,250.2 944.3,300 944.3,320 C944.3,340 943.9,343.2 944.3,350.1 C944.7,357.1 946.4,357.1 946.6,361.7 C946.8,366.3 944.8,372.2 945.4,378 C946,383.8 949.5,389.2 950.1,396.5 C950.7,403.8 947.9,415.4 948.9,422 C949.9,428.6 952.8,431.3 955.9,435.9 C959,440.5 966,445.7 967.5,449.5 C969,453.3 967.8,455.8 965.1,458.5 C962.4,461.2 954.5,463.2 951.2,465.5 C947.9,467.8 946.5,468.4 945.4,472.5 C944.2,476.6 944.5,476.9 944.3,490 C944.1,503.1 944.3,541.1 944.3,551.3" fill="none" stroke="#ff0000" stroke-width="4.8" stroke-linejoin="round"/>
<path d="M970.3,14.7 C970.1,15.6 967.7,17.6 969,20 C970.3,22.4 973.4,26.4 978.3,29.3 C983.2,32.2 989.4,34.8 998.3,37.3 C1007.2,39.8 1023.9,41.9 1031.7,44 C1039.5,46.1 1045,48.2 1045,50 C1045,51.8 1037.3,53.3 1031.7,54.7 C1026.1,56.1 1018.2,57.4 1011.5,58.5 C1004.8,59.6 998.7,60.3 991.7,61.3 C984.8,62.3 975.4,63.3 969.8,64.6 C964.2,65.9 961,67.8 958.3,69.3 C955.6,70.8 953.9,71.6 953.5,73.9 C953.1,76.2 953.2,80.5 955.9,83.2 C958.6,85.9 965,87.8 969.8,90.1 C974.6,92.4 981.7,93.6 984.8,97.1 C987.9,100.6 986.2,107.3 988.3,111 C990.4,114.7 993,116.4 997.6,119.1 C1002.2,121.8 1015,124.7 1016.2,127.2 C1017.4,129.7 1012.3,131.9 1004.6,134.2 C996.9,136.5 976,139.1 969.8,141.2 C963.6,143.3 965.6,145.2 967.5,146.9 C969.4,148.6 970.6,149.5 981.4,151.6 C992.2,153.7 1028.5,157 1032.4,159.7 C1036.3,162.4 1016.2,165.1 1004.6,167.8 C993,170.5 970.1,173.8 962.8,175.9 C955.4,178 959,178.8 960.5,180.6 C962,182.3 966.7,184.2 972.1,186.4 C977.5,188.6 993.4,191 993,193.5 C992.6,196 976,199.1 969.8,201.6 C963.6,204.1 958.2,206.2 955.9,208.5 C953.6,210.8 953.2,212.8 955.9,215.5 C958.6,218.2 970.2,222.1 972.1,224.8 C974,227.5 970.6,229.4 967.5,231.7 C964.4,234 957,235.6 953.5,238.7 C950,241.8 948.1,246.8 946.6,250.3 C945.1,253.8 944.8,253 944.3,259.6 C943.8,266.2 943.5,280.3 943.5,290 C943.5,299.7 943.1,311.4 944,318 C944.9,324.6 947.7,325.1 948.9,329.3 C950.1,333.5 948.9,338.9 951.2,343.2 C953.5,347.4 960.9,350.9 962.8,354.8 C964.7,358.7 961,362.5 962.8,366.4 C964.5,370.3 971.8,374.5 973.3,378 C974.8,381.5 973.9,382.9 972.1,387.2 C970.4,391.4 965.1,398.5 962.8,403.5 C960.5,408.5 959.8,412.8 958.2,417.4 C956.7,422 954.7,427.4 953.5,431.3 C952.3,435.2 951.8,437.2 951.2,440.6 C950.6,444 951.1,447.8 950.1,451.6 C949.1,455.4 946.4,459.3 945.4,463.2 C944.4,467.1 944.5,470.2 944.3,474.8 C944.1,479.4 943.1,486.8 944.3,491 C945.4,495.2 948.9,497.2 951.2,500.3 C953.5,503.4 957,506.9 958.2,509.6 C959.4,512.3 959.4,513.8 958.2,516.5 C957,519.2 952.4,523.1 951.2,525.8 C950,528.5 950,530.4 951.2,532.7 C952.4,535 955.1,537.4 958.2,539.7 C961.3,542 966.5,544.8 969.8,546.7 C973.1,548.6 976.5,550.5 977.9,551.3" fill="none" stroke="#00ff00" stroke-width="4.8" stroke-linejoin="round"/>
</g>
<text transform="translate(930.58,571.10) scale(0.1730,0.1620)" font-size="100" font-weight="bold" class="s">0.0</text>
<text transform="translate(1007.98,571.10) scale(0.1730,0.1620)" font-size="100" font-weight="bold" class="s">0.6</text>
<text transform="translate(1085.20,571.10) scale(0.1730,0.1620)" font-size="100" font-weight="bold" class="s">1.2</text>
<text transform="translate(997.49,600.80) scale(0.3015,0.3200)" font-size="100" font-weight="bold" class="s">DOS</text>
<path d="M953.3,274.6H1024.7" stroke="#ff0000" stroke-width="4.6" stroke-linecap="round"/>
<path d="M953.3,315.2H1024.7" stroke="#00ff00" stroke-width="4.6" stroke-linecap="round"/>
<text transform="translate(1033.56,285.40) scale(0.3140,0.3260)" font-size="100" font-weight="bold" class="s">Sn-s</text>
<text transform="translate(1033.56,325.80) scale(0.3140,0.3260)" font-size="100" font-weight="bold" class="s">Sn-p</text>
<defs><clipPath id="pc2"><rect x="1131.6" y="14.1" width="162.3" height="537.8"/></clipPath></defs>
<path d="M1131.8,551.6h5M1293.7,551.6h-5M1131.8,513.2h3.5M1293.7,513.2h-3.5M1131.8,474.9h5M1293.7,474.9h-5M1131.8,436.5h3.5M1293.7,436.5h-3.5M1131.8,398.1h5M1293.7,398.1h-5M1131.8,359.7h3.5M1293.7,359.7h-3.5M1131.8,321.4h5M1293.7,321.4h-5M1131.8,283h3.5M1293.7,283h-3.5M1131.8,244.6h5M1293.7,244.6h-5M1131.8,206.3h3.5M1293.7,206.3h-3.5M1131.8,167.9h5M1293.7,167.9h-5M1131.8,129.5h3.5M1293.7,129.5h-3.5M1131.8,91.1h5M1293.7,91.1h-5M1131.8,52.8h3.5M1293.7,52.8h-3.5M1131.8,14.4h5M1293.7,14.4h-5M1172.4,14.4v3.5M1172.4,551.6v-3.5M1213,14.4v6M1213,551.6v-6M1253.5,14.4v3.5M1253.5,551.6v-3.5" stroke="#000" stroke-width="2.6"/>
<rect x="1131.8" y="14.4" width="161.9" height="537.2" fill="none" stroke="#000" stroke-width="3.2" stroke-linejoin="round"/>
<g clip-path="url(#pc2)">
<path d="M1134.7,14.7 C1134.6,16.7 1133,22 1134,26.7 C1135,31.4 1139.2,38.7 1140.7,42.7 C1142.2,46.7 1143.4,47.2 1142.7,50.7 C1142,54.2 1137.5,60.5 1136.7,64 C1135.9,67.5 1136.6,69.6 1138,72 C1139.4,74.4 1140.9,75.9 1145.2,78.5 C1149.5,81.1 1159.3,84.9 1163.7,87.8 C1168.1,90.7 1171.8,93.2 1171.8,95.9 C1171.8,98.6 1166.6,101.2 1163.7,104.1 C1160.8,107 1155.7,109.4 1154.5,113.3 C1153.3,117.2 1157.6,123.7 1156.8,127.2 C1156,130.7 1152.7,131.5 1149.8,134.2 C1146.9,136.9 1141,140.8 1139.4,143.5 C1137.9,146.2 1138.4,147.7 1140.5,150.4 C1142.6,153.1 1151.3,156.6 1152.1,159.7 C1152.9,162.8 1147.9,165.9 1145.2,169 C1142.5,172.1 1137.6,174.7 1135.9,178.2 C1134.2,181.7 1135.2,186.2 1134.8,189.8 C1134.4,193.4 1134,196.1 1133.6,200 C1133.2,203.9 1132.6,196.5 1132.4,213.2 C1132.2,229.9 1132.3,277.2 1132.6,300 C1132.9,322.8 1133.6,333.3 1134,350 C1134.4,366.7 1134.8,385 1135,400 C1135.2,415 1135.7,429.5 1135.5,440 C1135.3,450.5 1134.1,457.8 1133.6,463.2 C1133.1,468.6 1132.6,468.6 1132.4,472.5 C1132.2,476.4 1130.3,482.1 1132.4,486.4 C1134.5,490.6 1140.4,494.1 1145.2,498 C1150,501.9 1160.2,506.5 1161.4,509.6 C1162.6,512.7 1155.6,514.2 1152.1,516.5 C1148.6,518.8 1143,520.8 1140.5,523.5 C1138,526.2 1137.1,529.2 1137.1,532.7 C1137.1,536.2 1139.5,541.2 1140.5,544.3 C1141.5,547.3 1142.5,549.9 1142.9,551" fill="none" stroke="#ff0000" stroke-width="4.8" stroke-linejoin="round"/>
<path d="M1154,14.7 C1155.5,16.1 1157.3,20.6 1163.3,23.3 C1169.3,26 1178.9,28.4 1190,30.7 C1201.1,33 1216.7,35.3 1230,37.3 C1243.3,39.3 1260.5,41 1270,42.7 C1279.5,44.4 1287.3,45.5 1287.3,47.3 C1287.3,49.1 1280.2,51.2 1270,53.3 C1259.8,55.4 1241.3,58.3 1226.3,60 C1211.3,61.7 1190.8,62 1180,63.5 C1169.2,65 1164.1,67.2 1161.4,69.3 C1158.7,71.4 1160.6,73.5 1163.7,76.2 C1166.8,78.9 1175.3,82.4 1180,85.5 C1184.7,88.6 1190.4,91.7 1191.6,94.8 C1192.8,97.9 1188.8,101 1186.9,104.1 C1185,107.2 1180,110.4 1180,113.3 C1180,116.2 1184.2,119.1 1186.9,121.4 C1189.6,123.7 1197.4,125.1 1196.2,127.2 C1195,129.3 1187.3,131.9 1180,134.2 C1172.7,136.5 1157.1,139.1 1152.1,141.2 C1147.1,143.3 1147.1,145 1149.8,146.9 C1152.5,148.8 1161.6,150.6 1168.4,152.7 C1175.2,154.8 1190.4,157.4 1190.4,159.7 C1190.4,162 1176.3,164.4 1168.4,166.7 C1160.5,169 1147.4,171.3 1142.9,173.6 C1138.5,175.9 1139.8,177.9 1141.7,180.6 C1143.6,183.3 1151.7,187.5 1154.5,189.8 C1157.3,192.1 1160,192.5 1158.5,194.5 C1157,196.5 1148.6,198.9 1145.2,201.6 C1141.8,204.3 1138.2,208.2 1138.2,210.9 C1138.2,213.6 1143.5,215.5 1145.2,217.8 C1147,220.1 1149.5,222.3 1148.7,224.8 C1147.9,227.3 1142.8,230.2 1140.5,232.9 C1138.2,235.6 1136.1,237.3 1134.8,241 C1133.5,244.7 1132.8,244.1 1132.4,254.9 C1132,265.7 1131.8,296.6 1132.4,305.9 C1133,315.2 1133,308.9 1135.9,310.6 C1138.8,312.4 1143.6,314.5 1149.8,316.4 C1156,318.3 1166,319.9 1173,322.2 C1180,324.5 1190.4,327.9 1191.6,330.4 C1192.8,332.9 1181.9,335.3 1180,337.4 C1178.1,339.5 1174.2,341.5 1180,343.2 C1185.8,344.9 1203.1,346.1 1214.7,347.8 C1226.3,349.5 1242.5,351.9 1249.5,353.6 C1256.5,355.4 1258.4,356.2 1256.5,358.3 C1254.6,360.4 1241.4,364.3 1237.9,366.4 C1234.4,368.5 1234,368.9 1235.6,371 C1237.1,373.1 1246.4,376.6 1247.2,379.1 C1248,381.6 1241.4,383.6 1240.2,386.1 C1239,388.6 1242.5,391.7 1240.2,394.2 C1237.9,396.7 1232.5,398.9 1226.3,401.2 C1220.1,403.5 1209,405 1203.2,408.1 C1197.4,411.2 1194.1,416.2 1191.6,419.7 C1189.1,423.2 1188.1,425.5 1188.1,429 C1188.1,432.5 1189.6,437.3 1191.6,440.6 C1193.6,443.9 1201.1,446.4 1200.3,449 C1199.5,451.6 1195.3,453.4 1186.9,456.2 C1178.5,458.9 1158.7,462.4 1149.8,465.5 C1140.9,468.6 1136.5,471.3 1133.6,474.8 C1130.7,478.3 1131.2,482.9 1132.4,486.4 C1133.6,489.9 1136.8,492.5 1140.5,495.6 C1144.2,498.7 1151.8,502.2 1154.5,504.9 C1157.2,507.6 1157.6,509.4 1156.8,511.9 C1156,514.4 1149.8,517.3 1149.8,520 C1149.8,522.7 1149.8,525.6 1156.8,528.1 C1163.8,530.6 1178.1,532.8 1191.6,535.1 C1205.1,537.4 1224.4,539.7 1237.9,542 C1251.4,544.3 1265.7,547.4 1272.7,549 C1279.7,550.6 1278.8,551.2 1280,551.6" fill="none" stroke="#00ff00" stroke-width="4.8" stroke-linejoin="round"/>
</g>
<text transform="translate(1119.33,568.50) scale(0.1730,0.1620)" font-size="100" font-weight="bold" class="s">0.0</text>
<text transform="translate(1200.63,568.50) scale(0.1730,0.1620)" font-size="100" font-weight="bold" class="s">0.4</text>
<text transform="translate(1281.89,568.50) scale(0.1730,0.1620)" font-size="100" font-weight="bold" class="s">0.8</text>
<text transform="translate(1180.78,598.40) scale(0.3034,0.3214)" font-size="100" font-weight="bold" class="s">DOS</text>
<path d="M1150.5,253.6H1222.5" stroke="#ff0000" stroke-width="4.6" stroke-linecap="round"/>
<path d="M1150.5,294.5H1222.5" stroke="#00ff00" stroke-width="4.6" stroke-linecap="round"/>
<text transform="translate(1231.44,265.20) scale(0.3140,0.3260)" font-size="100" font-weight="bold" class="s">C-s</text>
<text transform="translate(1231.44,305.20) scale(0.3140,0.3260)" font-size="100" font-weight="bold" class="s">C-p</text>
<defs><clipPath id="pc3"><rect x="1315.1" y="14.1" width="171.3" height="537.8"/></clipPath></defs>
<path d="M1315.3,551.6h5M1486.2,551.6h-5M1315.3,513.2h3.5M1486.2,513.2h-3.5M1315.3,474.9h5M1486.2,474.9h-5M1315.3,436.5h3.5M1486.2,436.5h-3.5M1315.3,398.1h5M1486.2,398.1h-5M1315.3,359.7h3.5M1486.2,359.7h-3.5M1315.3,321.4h5M1486.2,321.4h-5M1315.3,283h3.5M1486.2,283h-3.5M1315.3,244.6h5M1486.2,244.6h-5M1315.3,206.3h3.5M1486.2,206.3h-3.5M1315.3,167.9h5M1486.2,167.9h-5M1315.3,129.5h3.5M1486.2,129.5h-3.5M1315.3,91.1h5M1486.2,91.1h-5M1315.3,52.8h3.5M1486.2,52.8h-3.5M1315.3,14.4h5M1486.2,14.4h-5M1358,14.4v3.5M1358,551.6v-3.5M1400.8,14.4v6M1400.8,551.6v-6M1443.5,14.4v3.5M1443.5,551.6v-3.5" stroke="#000" stroke-width="2.6"/>
<rect x="1315.3" y="14.4" width="170.9" height="537.2" fill="none" stroke="#000" stroke-width="3.2" stroke-linejoin="round"/>
<g clip-path="url(#pc3)">
<path d="M1315.9,27 L1315.9,553" fill="none" stroke="#ff0000" stroke-width="4.8" stroke-linejoin="round"/>
<path d="M1316.7,14.7 C1316.9,16.2 1316.3,20 1318,24 C1319.7,28 1324.4,34.9 1326.7,38.7 C1329,42.5 1332,44.3 1332,46.7 C1332,49.1 1328.8,50.4 1326.7,53.3 C1324.6,56.2 1320,61.1 1319.3,64 C1318.6,66.9 1321.2,68.7 1322.7,70.7 C1324.2,72.7 1325.2,72.8 1328.2,76.2 C1331.2,79.6 1340.1,87 1340.9,91.3 C1341.7,95.5 1334.7,98.8 1332.8,101.7 C1330.9,104.6 1329.5,106 1329.3,108.7 C1329.1,111.4 1333,114.1 1331.7,118 C1330.4,121.9 1323.5,128 1321.2,131.9 C1318.9,135.8 1317.4,138.1 1317.8,141.2 C1318.2,144.3 1321.4,147.3 1323.5,150.4 C1325.6,153.5 1330.9,156.6 1330.5,159.7 C1330.1,162.8 1323.3,165.9 1321.2,169 C1319.1,172.1 1317.2,174.7 1317.8,178.2 C1318.4,181.7 1323.3,186.7 1324.7,189.8 C1326.1,192.9 1326.9,193.9 1325.9,197 C1324.9,200.1 1319.7,204.2 1318.9,208.5 C1318.1,212.8 1321.4,217.8 1321.2,222.5 C1321,227.2 1318.6,230.2 1317.8,236.4 C1317,242.6 1316.8,248 1316.6,259.6 C1316.4,271.2 1315.8,296.6 1316.6,305.9 C1317.4,315.2 1319.3,311.3 1321.2,315.2 C1323.1,319.1 1327.2,325 1328.2,329.3 C1329.2,333.6 1325.8,337.8 1327,340.9 C1328.2,344 1331,345.3 1335.1,347.8 C1339.2,350.3 1348.9,352.8 1351.4,355.9 C1353.9,359 1348.3,362.7 1350.2,366.4 C1352.1,370.1 1360.1,374.5 1363,378 C1365.9,381.5 1365.7,384.1 1367.6,387.2 C1369.5,390.3 1374.2,393.4 1374.6,396.5 C1375,399.6 1370.5,401.9 1369.9,405.8 C1369.3,409.7 1369.2,415.8 1371.1,419.7 C1373,423.6 1375.1,425.9 1381.5,429 C1387.9,432.1 1396.9,435.4 1409.3,438.2 C1421.7,441 1444.7,443.7 1455.7,446 C1466.7,448.3 1477.3,450.1 1475.4,451.8 C1473.5,453.6 1460.9,454.2 1444.1,456.5 C1427.3,458.8 1393.9,463 1374.6,465.5 C1355.3,468 1337.9,469 1328.2,471.3 C1318.5,473.6 1318.3,476.9 1316.6,479.4 C1314.9,481.9 1315.9,483.9 1317.8,486.4 C1319.7,488.9 1318.7,492 1328.2,494.5 C1337.7,497 1357.2,498.9 1374.6,501.4 C1392,503.9 1419.4,507.5 1432.5,509.6 C1445.6,511.7 1453.4,512.3 1453.4,514.2 C1453.4,516.1 1438.3,519.1 1432.5,521.2 C1426.7,523.3 1419.4,525.2 1418.6,526.9 C1417.8,528.6 1421.7,530.2 1427.9,531.6 C1434.1,533 1446,534.2 1455.7,535.1 C1465.4,536 1481,536.7 1486,537" fill="none" stroke="#00ff00" stroke-width="4.8" stroke-linejoin="round"/>
</g>
<text transform="translate(1302.98,570.90) scale(0.1730,0.1620)" font-size="100" font-weight="bold" class="s">0.0</text>
<text transform="translate(1389.24,570.90) scale(0.1730,0.1620)" font-size="100" font-weight="bold" class="s">0.5</text>
<text transform="translate(1474.10,570.90) scale(0.1730,0.1620)" font-size="100" font-weight="bold" class="s">1.0</text>
<text transform="translate(1372.18,600.70) scale(0.3034,0.3186)" font-size="100" font-weight="bold" class="s">DOS</text>
<path d="M1327.6,260H1399.6" stroke="#ff0000" stroke-width="4.6" stroke-linecap="round"/>
<path d="M1327.6,300.8H1399.6" stroke="#00ff00" stroke-width="4.6" stroke-linecap="round"/>
<text transform="translate(1408.50,271.20) scale(0.3140,0.3260)" font-size="100" font-weight="bold" class="s">F2-s</text>
<text transform="translate(1408.50,312.20) scale(0.3140,0.3260)" font-size="100" font-weight="bold" class="s">F2-p</text></svg>
</body></html>
